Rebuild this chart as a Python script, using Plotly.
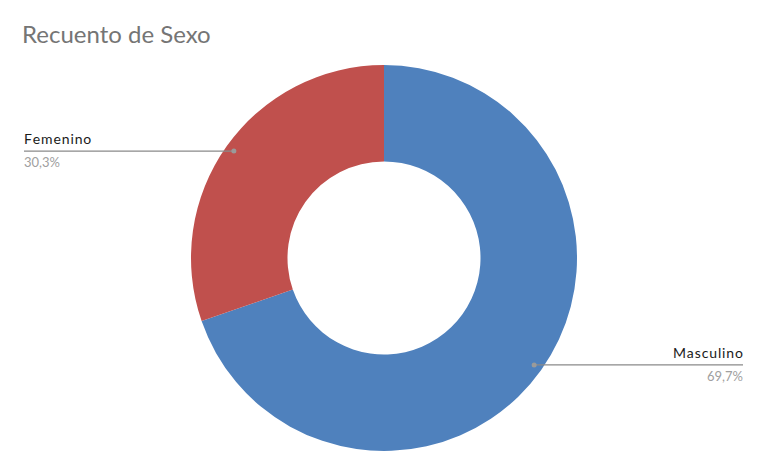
import math
import plotly.graph_objects as go

labels = ['Masculino', 'Femenino']
values = [69.7, 30.3]
colors = ['#4F81BD', '#C0504D']

W, H = 768, 475
OFF = 8  # page body margin offsets the figure
cx, cy, R = 384 - OFF, 258 - OFF, 193  # pixel centre / radius of the donut

fig = go.Figure(go.Pie(
    labels=labels, values=values, hole=0.5, sort=False,
    direction='clockwise', rotation=0,
    marker=dict(colors=colors, line=dict(width=0)),
    textinfo='none', hoverinfo='label+percent',
    domain=dict(x=[(cx - R) / W, (cx + R) / W], y=[(H - cy - R) / H, (H - cy + R) / H]),
))

# leader lines + labels, placed at the middle of each slice
total = sum(values)
start = 0
shapes, annots = [], []
for lab, v in zip(labels, values):
    mid = (start + v / 2) / total * 2 * math.pi
    start += v
    px_ = cx + 0.955 * R * math.sin(mid)
    py_ = cy - 0.955 * R * math.cos(mid)
    right = px_ > cx
    xend = (743 if right else 24) - OFF
    pct = f'{v / total * 100:.1f}%'.replace('.', ',')
    shapes.append(dict(type='line', xref='paper', yref='paper',
                       x0=px_ / W, x1=xend / W, y0=1 - py_ / H, y1=1 - py_ / H,
                       line=dict(color='#8a8a8a', width=1.2)))
    shapes.append(dict(type='circle', xref='paper', yref='paper',
                       x0=(px_ - 2.5) / W, x1=(px_ + 2.5) / W,
                       y0=1 - (py_ + 2.5) / H, y1=1 - (py_ - 2.5) / H,
                       fillcolor='#9a9a9a', line=dict(width=0)))
    anchor = 'right' if right else 'left'
    annots.append(dict(x=xend / W, y=1 - (py_ - 2) / H, xref='paper', yref='paper',
                       text='\u200a'.join(lab), showarrow=False,
                       xanchor=anchor, yanchor='bottom', xshift=2 if right else -2,
                       font=dict(family='Lato', size=14, color='#1a1a1a')))
    annots.append(dict(x=xend / W, y=1 - (py_ + 1) / H, xref='paper', yref='paper',
                       text=pct, showarrow=False, xanchor=anchor, yanchor='top',
                       xshift=2 if right else -2,
                       font=dict(family='Lato', size=13, color='#a0a0a0')))

fig.update_layout(
    width=W, height=H,
    margin=dict(l=0, r=0, t=0, b=0),
    paper_bgcolor='white', plot_bgcolor='white',
    showlegend=False,
    title=dict(text='Recuento de Sexo', x=(22 - OFF) / W, xanchor='left', y=1 - (35 - OFF) / H,
               yanchor='middle',
               font=dict(family='Lato', size=24, color='#757575')),
    shapes=shapes, annotations=annots,
)

fig.write_html('out.html')
